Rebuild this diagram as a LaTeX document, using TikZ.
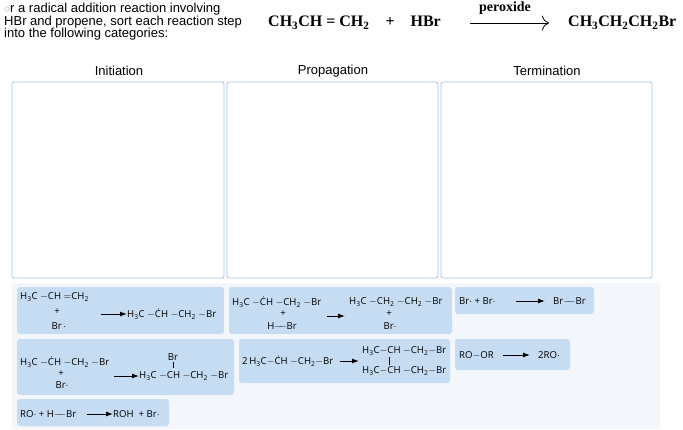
\documentclass[tikz,border=0pt]{standalone}
\usepackage{fontspec}
\setmainfont{Liberation Sans}
\newfontfamily\eqfont{Liberation Serif}
\newfontfamily\chemfont{Open Sans}
\usetikzlibrary{arrows.meta}
\definecolor{cardfill}{HTML}{C6DCF2}
\definecolor{palbg}{HTML}{F3F7FC}
\definecolor{boxline}{HTML}{9CC3EA}
\tikzset{
 cat/.style={draw=boxline,fill=white,rounded corners=2pt,line width=0.8pt},
 card/.style={fill=cardfill,rounded corners=3pt},
 ch/.style={font=\chemfont\fontsize{9.6}{11}\selectfont,inner sep=0pt,anchor=west,align=center},
 rx/.style={-{Latex[length=7pt,width=5pt]},line width=1pt},
 lbl/.style={font=\fontsize{13}{14}\selectfont}
}
\newcommand{\dCH}{\.{C}H}
\begin{document}
\begin{tikzpicture}[x=1pt,y=-1pt]
\useasboundingbox (0,0) rectangle (683,429);
\fill[white] (0,0) rectangle (683,429);
% question
\node[anchor=north west,align=left,font=\fontsize{13}{12.5}\selectfont,inner sep=0pt] (q) at (4,3) {\textcolor{gray!70}{$\circ$}r a radical addition reaction involving\\HBr and propene, sort each reaction step\\into the following categories:};
\node[font=\eqfont\bfseries\fontsize{16}{18}\selectfont,anchor=west,inner sep=0pt] (r1) at (268,23) {CH\textsubscript{3}CH = CH\textsubscript{2}\quad +\quad HBr};
\node[font=\eqfont\bfseries\fontsize{16}{18}\selectfont,anchor=west,inner sep=0pt] (p1) at (568,23) {CH\textsubscript{3}CH\textsubscript{2}CH\textsubscript{2}Br};
\coordinate (a1) at (470,23); \coordinate (a2) at (549,23);
\draw[-{To[length=7pt]},line width=0.8pt] (a1) -- (a2);
\node[font=\eqfont\bfseries\fontsize{14}{15}\selectfont,inner sep=0pt] (pe) at (505,8) {peroxide};
% categories
\node[lbl] (l1) at (119,71) {Initiation};
\node[lbl] (l2) at (333,71) {Propagation};
\node[lbl] (l3) at (547,71) {Termination};
\draw[cat] (12,82) rectangle (224,278);
\draw[cat] (227,82) rectangle (438,278);
\draw[cat] (441,82) rectangle (652,278);
% palette
\fill[palbg] (12,283) rectangle (660,429);
\fill[card] (17,287) rectangle (224,334);
\fill[card] (229,287) rectangle (452,334);
\fill[card] (455,287) rectangle (594,314);
\fill[card] (17,339) rectangle (234,395);
\fill[card] (239,339) rectangle (450,383);
\fill[card] (455,339) rectangle (570,370);
\fill[card] (17,399) rectangle (169,426);
% card 1
\node[ch] (c1a) at (20,297) {H\textsubscript{3}C $-$CH $=$CH\textsubscript{2}};
\node[ch,anchor=center] (c1b) at (57,312) {+};
\node[ch,anchor=center] (c1c) at (59,326) {Br\,$\cdot$};
\node[ch] (c1p) at (127,314) {H\textsubscript{3}C $-$\dCH{} $-$CH\textsubscript{2} $-$Br};
\coordinate (c1s) at (101,314); \draw[rx] (c1s) -- (c1p.west);
% card 2
\node[ch] (c2a) at (232,302) {H\textsubscript{3}C $-$\dCH{} $-$CH\textsubscript{2} $-$Br};
\node[ch,anchor=center] (c2b) at (283,314) {+};
\node[ch,anchor=center] (c2c) at (282,326) {H$-\!\!-$Br};
\node[ch] (c2p) at (349,302) {H\textsubscript{3}C $-$CH\textsubscript{2} $-$CH\textsubscript{2} $-$Br};
\node[ch,anchor=center] (c2d) at (389,314) {+};
\node[ch,anchor=center] (c2e) at (390,326) {Br$\cdot$};
\coordinate (c2s) at (327,316); \coordinate (c2t) at (345,316); \draw[rx] (c2s) -- (c2t);
% card 3
\node[ch] (c3a) at (459,301) {Br$\cdot$\ + Br$\cdot$};
\node[ch] (c3p) at (553,301) {Br$-\!\!-$Br};
\coordinate (c3s) at (516,301); \coordinate (c3t) at (545,301); \draw[rx] (c3s) -- (c3t);
% card 4
\node[ch] (c4a) at (20,362) {H\textsubscript{3}C $-$\dCH{} $-$CH\textsubscript{2} $-$Br};
\node[ch,anchor=center] (c4b) at (61,374) {+};
\node[ch,anchor=center] (c4c) at (62,385) {Br$\cdot$};
\node[ch] (c4p) at (139,376) {H\textsubscript{3}C $-$CH $-$CH\textsubscript{2} $-$Br};
\node[ch,anchor=center] (c4br) at (173,357) {Br};
\draw[line width=0.6pt] (173,362) -- (173,368);
\coordinate (c4s) at (114,376); \draw[rx] (c4s) -- (c4p.west);
% card 5
\node[ch] (c5a) at (242,361) {2\,H\textsubscript{3}C$-$\dCH{} $-$CH\textsubscript{2}$-$Br};
\node[ch] (c5p1) at (362,351) {H\textsubscript{3}C$-$CH $-$CH\textsubscript{2}$-$Br};
\node[ch] (c5p2) at (362,371) {H\textsubscript{3}C$-$CH $-$CH\textsubscript{2}$-$Br};
\draw[line width=0.6pt] (389,357) -- (389,365);
\coordinate (c5s) at (340,361); \coordinate (c5t) at (359,361); \draw[rx] (c5s) -- (c5t);
% card 6
\node[ch] (c6a) at (459,355) {RO$-$OR};
\node[ch] (c6p) at (538,355) {2RO$\cdot$};
\coordinate (c6s) at (503,355); \coordinate (c6t) at (530,355); \draw[rx] (c6s) -- (c6t);
% card 7
\node[ch] (c7a) at (20,414) {RO$\cdot$\ + H$-\!\!-$Br};
\node[ch] (c7p) at (113,414) {ROH\ \ + Br$\cdot$};
\coordinate (c7s) at (87,414); \draw[rx] (c7s) -- (c7p.west);
\end{tikzpicture}
\end{document}
